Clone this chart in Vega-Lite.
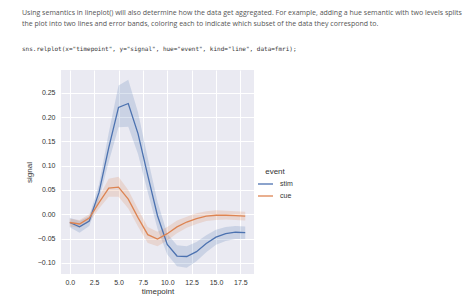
{
  "$schema": "https://vega.github.io/schema/vega-lite/v6.json",
  "width": 193,
  "height": 204,
  "autosize": {"type": "none"},
  "padding": {"left": 61, "top": 70, "right": 220, "bottom": 28},
  "background": "white",
  "title": {
    "text": [
      "Using semantics in lineplot() will also determine how the data get aggregated. For example, adding a hue semantic with two levels splits",
      "the plot into two lines and error bands, coloring each to indicate which subset of the data they correspond to."
    ],
    "subtitle": "\u00a0\u00a0sns.relplot(x=\"timepoint\", y=\"signal\", hue=\"event\", kind=\"line\", data=fmri);",
    "anchor": "start",
    "frame": "group",
    "dx": -39,
    "offset": 18,
    "font": "Open Sans",
    "fontSize": 7,
    "fontWeight": "normal",
    "color": "#555555",
    "lineHeight": 11.5,
    "subtitleFont": "DejaVu Sans Mono",
    "subtitleFontSize": 6,
    "subtitleColor": "#333333",
    "subtitlePadding": 19
  },
  "data": {
    "values": [
      {"timepoint": 0, "event": "stim", "signal": -0.017, "lo": -0.027, "hi": -0.007},
      {"timepoint": 1, "event": "stim", "signal": -0.026, "lo": -0.038, "hi": -0.014},
      {"timepoint": 2, "event": "stim", "signal": -0.014, "lo": -0.024, "hi": -0.004},
      {"timepoint": 3, "event": "stim", "signal": 0.045, "lo": 0.030, "hi": 0.062},
      {"timepoint": 4, "event": "stim", "signal": 0.137, "lo": 0.108, "hi": 0.168},
      {"timepoint": 5, "event": "stim", "signal": 0.220, "lo": 0.179, "hi": 0.265},
      {"timepoint": 6, "event": "stim", "signal": 0.228, "lo": 0.180, "hi": 0.277},
      {"timepoint": 7, "event": "stim", "signal": 0.166, "lo": 0.124, "hi": 0.210},
      {"timepoint": 8, "event": "stim", "signal": 0.080, "lo": 0.046, "hi": 0.116},
      {"timepoint": 9, "event": "stim", "signal": -0.003, "lo": -0.030, "hi": 0.026},
      {"timepoint": 10, "event": "stim", "signal": -0.062, "lo": -0.083, "hi": -0.040},
      {"timepoint": 11, "event": "stim", "signal": -0.086, "lo": -0.107, "hi": -0.064},
      {"timepoint": 12, "event": "stim", "signal": -0.087, "lo": -0.110, "hi": -0.066},
      {"timepoint": 13, "event": "stim", "signal": -0.077, "lo": -0.097, "hi": -0.057},
      {"timepoint": 14, "event": "stim", "signal": -0.060, "lo": -0.078, "hi": -0.043},
      {"timepoint": 15, "event": "stim", "signal": -0.047, "lo": -0.063, "hi": -0.032},
      {"timepoint": 16, "event": "stim", "signal": -0.040, "lo": -0.055, "hi": -0.026},
      {"timepoint": 17, "event": "stim", "signal": -0.037, "lo": -0.051, "hi": -0.024},
      {"timepoint": 18, "event": "stim", "signal": -0.038, "lo": -0.051, "hi": -0.025},
      {"timepoint": 0, "event": "cue", "signal": -0.017, "lo": -0.025, "hi": -0.009},
      {"timepoint": 1, "event": "cue", "signal": -0.020, "lo": -0.028, "hi": -0.012},
      {"timepoint": 2, "event": "cue", "signal": -0.008, "lo": -0.016, "hi": 0.000},
      {"timepoint": 3, "event": "cue", "signal": 0.024, "lo": 0.012, "hi": 0.036},
      {"timepoint": 4, "event": "cue", "signal": 0.054, "lo": 0.036, "hi": 0.073},
      {"timepoint": 5, "event": "cue", "signal": 0.056, "lo": 0.036, "hi": 0.077},
      {"timepoint": 6, "event": "cue", "signal": 0.031, "lo": 0.012, "hi": 0.050},
      {"timepoint": 7, "event": "cue", "signal": -0.007, "lo": -0.025, "hi": 0.011},
      {"timepoint": 8, "event": "cue", "signal": -0.042, "lo": -0.059, "hi": -0.026},
      {"timepoint": 9, "event": "cue", "signal": -0.051, "lo": -0.066, "hi": -0.036},
      {"timepoint": 10, "event": "cue", "signal": -0.040, "lo": -0.054, "hi": -0.026},
      {"timepoint": 11, "event": "cue", "signal": -0.026, "lo": -0.039, "hi": -0.013},
      {"timepoint": 12, "event": "cue", "signal": -0.016, "lo": -0.028, "hi": -0.005},
      {"timepoint": 13, "event": "cue", "signal": -0.009, "lo": -0.020, "hi": 0.002},
      {"timepoint": 14, "event": "cue", "signal": -0.004, "lo": -0.014, "hi": 0.006},
      {"timepoint": 15, "event": "cue", "signal": -0.002, "lo": -0.012, "hi": 0.008},
      {"timepoint": 16, "event": "cue", "signal": -0.002, "lo": -0.011, "hi": 0.007},
      {"timepoint": 17, "event": "cue", "signal": -0.003, "lo": -0.012, "hi": 0.006},
      {"timepoint": 18, "event": "cue", "signal": -0.004, "lo": -0.013, "hi": 0.005}
    ]
  },
  "encoding": {
    "x": {
      "field": "timepoint",
      "type": "quantitative",
      "scale": {"domain": [-0.9, 18.9], "nice": false, "zero": false},
      "axis": {
        "title": "timepoint",
        "values": [0, 2.5, 5, 7.5, 10, 12.5, 15, 17.5],
        "format": ".1f",
        "labelPadding": 4,
        "titlePadding": 2
      }
    },
    "color": {
      "field": "event",
      "type": "nominal",
      "scale": {"domain": ["stim", "cue"], "range": ["#4c72b0", "#dd8452"]},
      "legend": {
        "title": "event",
        "orient": "none",
        "legendX": 196,
        "legendY": 98,
        "symbolType": "stroke",
        "symbolSize": 225,
        "symbolStrokeWidth": 1.3,
        "symbolOpacity": 1,
        "labelOffset": 6,
        "titleAnchor": "middle",
        "padding": 0,
        "rowPadding": -4,
        "titlePadding": -0.5
      }
    }
  },
  "layer": [
    {
      "mark": {"type": "area", "opacity": 0.2},
      "encoding": {
        "y": {
          "field": "lo",
          "type": "quantitative",
          "scale": {"domain": [-0.123, 0.297], "nice": false, "zero": false},
          "axis": {
            "title": "signal",
            "values": [-0.1, -0.05, 0, 0.05, 0.1, 0.15, 0.2, 0.25],
            "format": ".2f",
            "labelPadding": 6,
            "titlePadding": 4
          }
        },
        "y2": {"field": "hi"}
      }
    },
    {
      "mark": {"type": "line", "strokeWidth": 1.3},
      "encoding": {
        "y": {
          "field": "signal",
          "type": "quantitative",
          "scale": {"domain": [-0.123, 0.297], "nice": false, "zero": false},
          "axis": {
            "title": "signal",
            "values": [-0.1, -0.05, 0, 0.05, 0.1, 0.15, 0.2, 0.25],
            "format": ".2f",
            "labelPadding": 6,
            "titlePadding": 4
          }
        }
      }
    }
  ],
  "config": {
    "view": {"fill": "#eaeaf2", "stroke": null},
    "font": "Liberation Sans",
    "axis": {
      "grid": true,
      "gridColor": "#ffffff",
      "gridWidth": 1,
      "domain": false,
      "ticks": false,
      "labelOverlap": false,
      "labelFont": "Liberation Sans",
      "labelFontSize": 7,
      "labelColor": "#333333",
      "titleFont": "Liberation Sans",
      "titleFontSize": 8,
      "titleFontWeight": "normal",
      "titleColor": "#333333"
    },
    "legend": {
      "labelFont": "Liberation Sans",
      "labelFontSize": 7,
      "labelColor": "#333333",
      "titleFont": "Liberation Sans",
      "titleFontSize": 8,
      "titleFontWeight": "normal",
      "titleColor": "#333333"
    }
  }
}
